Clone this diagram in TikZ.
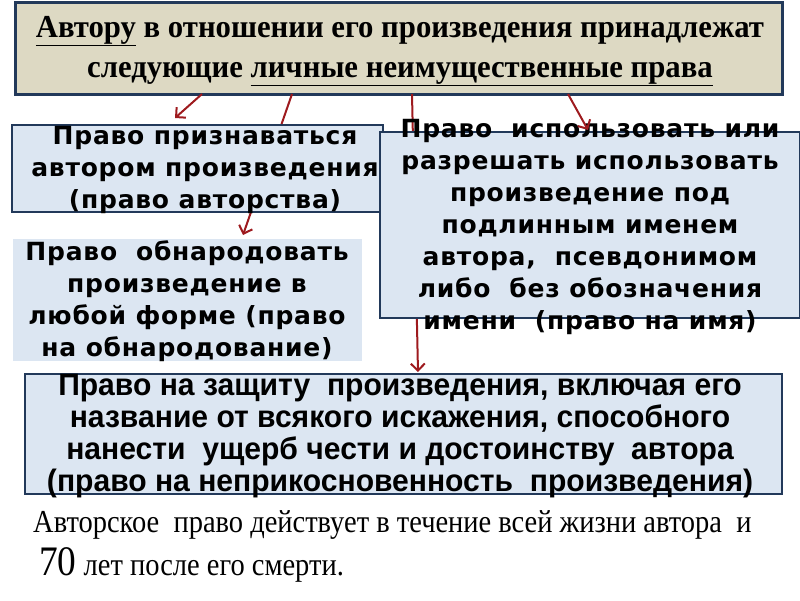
\documentclass[tikz,border=0pt]{standalone}
\usepackage{fontspec}
\setmainfont{Liberation Serif}
\newfontfamily\headfont[FakeStretch=0.96]{Liberation Serif}
\newfontfamily\boxfont[LetterSpace=3]{DejaVu Sans}
\newfontfamily\narrowfont[FakeStretch=0.97]{Liberation Sans}
\newfontfamily\notefont[FakeStretch=0.89]{Liberation Serif}
\usetikzlibrary{arrows.meta}
\definecolor{beige}{HTML}{DDD9C3}
\definecolor{paleblue}{HTML}{DCE6F2}
\definecolor{navy}{HTML}{22395A}
\definecolor{darkred}{HTML}{9E1A1E}
\begin{document}
\begin{tikzpicture}[x=1pt,y=-1pt,
  box/.style={draw=navy,line width=2.5pt,fill=paleblue,inner sep=0pt},
  arr/.style={darkred,line width=2pt,-{Straight Barb[length=7pt,width=14pt,line width=2pt]}},
  txt/.style={align=center,inner sep=0pt,font=\boxfont\bfseries\fontsize{25}{32}\selectfont}]
\useasboundingbox (0,0) rectangle (800,600);
% header
\node[box,fill=beige,line width=3pt,minimum width=767pt,minimum height=92pt] (head) at (398.5,48) {};
\node[align=center,inner sep=0pt,font=\headfont\bfseries\fontsize{32}{40}\selectfont] (headtxt) at (400,51)
  {\underline{Автору} в отношении его произведения принадлежат\\ следующие \underline{личные неимущественные права}};
\coordinate (s1) at (202,94);
\coordinate (s2) at (292,94);
\coordinate (s3) at (412,94);
\coordinate (s4) at (568,94);
\coordinate (e1) at (175,118);
\coordinate (e2) at (243,235);
\coordinate (e3) at (418,372);
\coordinate (e4) at (588,130);
\draw[arr] (s2) -- (e2);
\draw[arr] (s3) -- (e3);
% rights
\node[box,minimum width=371pt,minimum height=87pt] (author) at (197.5,168.5) {};
\node[txt] (authortxt) at (205,170) {Право признаваться\\ автором произведения\\ (право авторства)};
\node[box,minimum width=420pt,minimum height=186pt] (name) at (590,225) {};
\node[txt] (nametxt) at (590,227) {Право\ \ использовать или\\ разрешать использовать\\ произведение под\\
  подлинным именем\\ автора,\ \ псевдонимом\\ либо\ \ без обозначения\\ имени\ \ (право на имя)};
\node[box,draw=none,minimum width=349pt,minimum height=122pt] (publish) at (187.5,300) {};
\node[txt] (publishtxt) at (187,301) {Право\ \ обнародовать\\ произведение в\\ любой форме (право\\ на обнародование)};
\node[box,minimum width=757pt,minimum height=120pt] (protect) at (403.5,434) {};
\node[align=center,inner sep=0pt,font=\narrowfont\bfseries\fontsize{31}{32}\selectfont] (protecttxt) at (400,436)
  {Право на защиту\ \ произведения, включая его\\ название от всякого искажения, способного\\
   нанести\ \ ущерб чести и достоинству\ \ автора\\ (право на неприкосновенность\ \ произведения)};
\draw[arr] (s1) -- (e1);
\draw[arr] (s4) -- (e4);
% note
\node[anchor=base west,inner sep=0pt,font=\notefont\fontsize{32}{40}\selectfont] (note) at (33,532)
  {Авторское\ \ право действует в течение всей жизни автора\ \ и};
\node[anchor=base west,inner sep=0pt,font=\notefont\fontsize{32}{40}\selectfont] (note2) at (39,575)
  {{\fontsize{42}{40}\selectfont 70} лет после его смерти.};
\end{tikzpicture}
\end{document}
